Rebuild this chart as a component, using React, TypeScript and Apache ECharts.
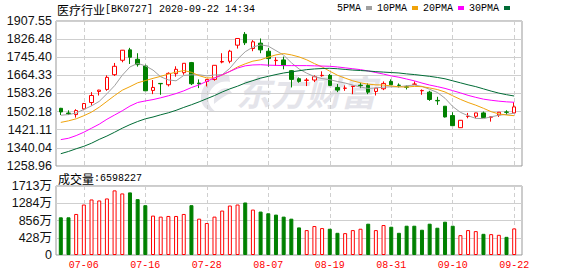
import React, { useEffect, useRef } from 'react';
import * as echarts from 'echarts';

const dates = [
  '07-01','07-02','07-03','07-06','07-07','07-08','07-09','07-10','07-13','07-14',
  '07-15','07-16','07-17','07-20','07-21','07-22','07-23','07-24','07-27','07-28',
  '07-29','07-30','07-31','08-03','08-04','08-05','08-06','08-07','08-10','08-11',
  '08-12','08-13','08-14','08-17','08-18','08-19','08-20','08-21','08-24','08-25',
  '08-26','08-27','08-28','08-31','09-01','09-02','09-03','09-04','09-07','09-08',
  '09-09','09-10','09-11','09-14','09-15','09-16','09-17','09-18','09-21','09-22'
];

const opens = [
  1517, 1496, 1488.9, 1514.4, 1542.9, 1592.4, 1601.4, 1667.4, 1731.9, 1778.4,
  1736.4, 1706.4, 1596.9, 1628.4, 1622.4, 1671.9, 1676.4, 1721.4, 1629.9, 1637.4,
  1646.4, 1723.9, 1727.4, 1799.4, 1848, 1784.4, 1808.4, 1772.4, 1730.4, 1733.4,
  1685.4, 1649.4, 1641.9, 1643.4, 1662.9, 1664.4, 1610.4, 1606.4, 1614.4, 1620.4,
  1619.4, 1592.4, 1604.4, 1637.4, 1620.4, 1612.9, 1624.4, 1595.4, 1589.4, 1552.4,
  1526.4, 1484.4, 1430.4, 1480.4, 1481.4, 1496.4, 1477.4, 1487.4, 1500.4, 1496.4
];
const closes = [
  1500.8, 1493, 1506.9, 1538.4, 1574.4, 1598.4, 1655.4, 1704.9, 1776.9, 1745.4,
  1712.4, 1595.4, 1610.4, 1626.9, 1673.4, 1691.4, 1718.4, 1626.9, 1626.9, 1646.4,
  1709.4, 1726.4, 1772.4, 1829.4, 1810, 1814.4, 1778.4, 1739.4, 1731.9, 1709.4,
  1646.4, 1637.4, 1643.4, 1658.4, 1664.4, 1619.4, 1598.4, 1607.4, 1616.4, 1618.4,
  1589.4, 1607.4, 1628.4, 1622.4, 1619.4, 1611.4, 1625.4, 1596.9, 1556.4, 1550.4,
  1478.4, 1439.4, 1463.4, 1481.4, 1496.4, 1475.4, 1478.4, 1499.4, 1499.4, 1523.4
];
const lows = [
  1487, 1487, 1475.4, 1508.4, 1529.4, 1574.4, 1595.4, 1661.4, 1722.9, 1715.4,
  1703.4, 1595.4, 1580.4, 1577.4, 1614.9, 1658.4, 1667.4, 1620.9, 1607.4, 1614.9,
  1640.4, 1718.4, 1718.4, 1784.4, 1800, 1772.4, 1763.4, 1703.4, 1706.4, 1691.4,
  1610.4, 1631.4, 1616.4, 1634.4, 1658.4, 1616.4, 1589.4, 1595.4, 1580.4, 1607.4,
  1580.4, 1574.4, 1598.4, 1622.4, 1610.4, 1601.4, 1622.4, 1577.4, 1550.4, 1532.4,
  1476, 1439.4, 1430, 1472.4, 1472.4, 1475, 1457.4, 1478.4, 1487.4, 1496.4
];
const highs = [
  1519, 1508, 1512.9, 1541, 1589.4, 1600, 1664.4, 1719.9, 1778, 1787.4,
  1763.4, 1712.4, 1643.4, 1629, 1677.9, 1704.9, 1719, 1724.4, 1646.4, 1647.9,
  1710, 1763.4, 1778.4, 1830, 1858, 1821.9, 1829.4, 1787.4, 1745.4, 1748.4,
  1688.4, 1655.4, 1652.4, 1664.4, 1682.4, 1670.4, 1625.4, 1619.4, 1617, 1631.4,
  1628.4, 1608, 1637.4, 1646.4, 1628.4, 1619.4, 1637.4, 1601.4, 1595.4, 1568.4,
  1527, 1499.4, 1464, 1496.4, 1497, 1502.4, 1480.4, 1500, 1508.4, 1545
];

const ma5 = [
  1486, 1489, 1496, 1512, 1528, 1548, 1582, 1618, 1665, 1702,
  1718, 1707, 1688, 1658, 1644, 1640, 1664, 1667, 1667, 1662,
  1666, 1667, 1696, 1737, 1770, 1791, 1801, 1795, 1775, 1755,
  1721, 1693, 1674, 1659, 1650, 1645, 1637, 1630, 1621, 1612,
  1606, 1608, 1612, 1613, 1613, 1618, 1621, 1615, 1602, 1588,
  1562, 1525, 1499, 1484, 1472, 1471, 1479, 1486, 1490, 1495
];
const ma10 = [
  1454, 1461, 1470, 1484, 1500, 1522, 1548, 1574, 1598, 1614,
  1631, 1641, 1651, 1660, 1670, 1679, 1686, 1678, 1663, 1653,
  1653, 1666, 1682, 1702, 1716, 1728, 1734, 1746, 1756, 1762,
  1756, 1747, 1734, 1717, 1702, 1683, 1665, 1652, 1640, 1631,
  1625, 1622, 1621, 1617, 1613, 1612, 1615, 1614, 1608, 1601,
  1590, 1573, 1557, 1543, 1531, 1517, 1502, 1492, 1487, 1484
];
const ma20 = [
  1377, 1383, 1395, 1410, 1428, 1446, 1468, 1487, 1506, 1527,
  1543, 1550, 1556, 1564, 1573, 1583, 1595, 1610, 1622, 1638,
  1653, 1667, 1682, 1697, 1707, 1711, 1712, 1710, 1709, 1708,
  1708, 1708, 1708, 1707, 1706, 1705, 1702, 1698, 1694, 1690,
  1684, 1677, 1670, 1662, 1656, 1648, 1640, 1630, 1621, 1614,
  1606, 1596, 1586, 1575, 1566, 1558, 1553, 1549, 1546, 1544
];
const ma30 = [
  1314, 1324, 1336, 1347, 1361, 1378, 1393, 1410, 1428, 1444,
  1458, 1470, 1478, 1488, 1497, 1508, 1521, 1533, 1546, 1560,
  1574, 1590, 1604, 1616, 1630, 1641, 1652, 1660, 1668, 1675,
  1680, 1685, 1690, 1693, 1695, 1696, 1694, 1691, 1688, 1686,
  1684, 1681, 1679, 1677, 1675, 1671, 1668, 1664, 1660, 1655,
  1649, 1640, 1631, 1622, 1614, 1604, 1594, 1585, 1578, 1572
];

// volume in units of 万
const volumes = [
  936, 936, 1019, 1253, 1379, 1354, 1404, 1604, 1529, 1554,
  1387, 1237, 978, 953, 969, 969, 1019, 1237, 902, 794,
  953, 1103, 1228, 1253, 1304, 1128, 1078, 1036, 1003, 953,
  902, 685, 618, 719, 668, 652, 551, 543, 618, 652,
  777, 618, 744, 702, 551, 727, 727, 627, 777, 677,
  827, 727, 493, 618, 593, 526, 518, 501, 451, 660
];
// 1 = rising (red, hollow), 0 = falling (green, filled)
const volumeUp = [
  0, 0, 1, 1, 1, 1, 1, 1, 1, 0,
  0, 0, 1, 1, 1, 1, 1, 0, 1, 1,
  1, 1, 1, 1, 0, 1, 0, 0, 0, 0,
  0, 0, 1, 1, 1, 0, 0, 1, 1, 1,
  0, 1, 1, 0, 0, 0, 0, 0, 0, 0,
  0, 0, 1, 1, 1, 0, 1, 1, 0, 1
];

const priceTicks = [1258.96, 1340.04, 1421.11, 1502.18, 1583.26, 1664.33, 1745.40, 1826.48, 1907.55];
const volumeTickLabels = ['0', '428万', '856万', '1284万', '1713万'];
const volumeMax = 1713;
const volumeStep = 428.25;

const titleName = '医疗行业';
const titleCode = '[BK0727] 2020-09-22 14:34';
const volumeName = '成交量';
const volumeNow = ':6598227';
const maNames = ['5PMA', '10PMA', '20PMA', '30PMA'];
const maColors = ['#a0a0a0', '#f0a30a', '#ff00ff', '#006b35'];

const RED = '#ff0000';
const GREEN = '#008000';
const GRIDLINE = '#cfcfcf';
const FRAME = '#999999';
const MONO = 'Liberation Mono, Noto Sans CJK SC';
const SANS = 'Liberation Sans, Noto Sans CJK SC';
const CJK = 'Noto Sans CJK SC';

const labelEvery = (i: number) => i >= 3 && (i - 3) % 8 === 0;

try {
  echarts.graphic.registerShape(
    'emlogo',
    echarts.graphic.extendPath(
      'M30 4 C16 2 3 12 2 25 C1 34 8 41 17 41 C10 36 8 29 10 23 C13 14 22 9 31 11 Z M29 17 C20 17 14 23 15 33 C21 28 26 24 33 22 Z',
      {}
    ) as any
  );
} catch (e) {
  /* already registered */
}

export default function App() {
  const ref = useRef<HTMLDivElement>(null);
  useEffect(() => {
    document.body.style.margin = '0';
    const chart = echarts.init(ref.current!, null, { renderer: 'svg' });
    const dataLeft = 60.8;
    const dataRight = 578 - 514.2;
    const option: any = {
      animation: false,
      backgroundColor: '#ffffff',
      legend: {
        data: maNames,
        left: 337,
        top: 3,
        align: 'right',
        icon: 'rect',
        itemWidth: 6,
        itemHeight: 4,
        itemGap: 5,
        padding: 0,
        textStyle: { fontFamily: MONO, fontSize: 10, color: '#000' },
      },
      graphic: [
        {
          type: 'group',
          z: -1,
          children: [
            {
              type: 'emlogo',
              x: 199,
              y: 71,
              scaleX: 1,
              scaleY: 1,
              z: -1,
              style: { fill: '#e4e4ea' },
            },
            {
              type: 'text',
              x: 236,
              y: 90,
              z: -1,
              style: {
                text: '东方财富',
                fontFamily: CJK,
                fontSize: 35,
                fontWeight: 'bold',
                fontStyle: 'italic',
                fill: '#e4e4ea',
                verticalAlign: 'middle',
                align: 'left',
              },
            },
          ],
        },
        {
          type: 'text',
          x: 57,
          y: 9,
          style: {
            text: `{a|${titleName}}{b|${titleCode}}`,
            verticalAlign: 'middle',
            rich: {
              a: { fontFamily: CJK, fontSize: 12, fill: '#000' },
              b: { fontFamily: MONO, fontSize: 10, fill: '#000' },
            },
          },
        },
        {
          type: 'text',
          x: 58,
          y: 178,
          style: {
            text: `{a|${volumeName}}{b|${volumeNow}}`,
            verticalAlign: 'middle',
            rich: {
              a: { fontFamily: CJK, fontSize: 12, fill: '#000' },
              b: { fontFamily: MONO, fontSize: 10, fill: '#000' },
            },
          },
        },
      ],
      grid: [
        { left: 56, right: 56, top: 21, height: 145, show: true, borderColor: FRAME, borderWidth: 1, backgroundColor: 'transparent' },
        { left: dataLeft, right: dataRight, top: 21, height: 145 },
        { left: 56, right: 56, top: 186, height: 69, show: true, borderColor: FRAME, borderWidth: 1, backgroundColor: 'transparent' },
        { left: dataLeft, right: dataRight, top: 186, height: 69 },
      ],
      xAxis: [
        { type: 'value', gridIndex: 0, show: false },
        {
          type: 'category',
          gridIndex: 1,
          data: dates,
          boundaryGap: false,
          axisLine: { show: false },
          axisTick: { show: false },
          axisLabel: { show: false },
          splitLine: { show: true, interval: labelEvery, lineStyle: { color: GRIDLINE, type: [4, 3], width: 1 } },
        },
        { type: 'value', gridIndex: 2, show: false },
        {
          type: 'category',
          gridIndex: 3,
          data: dates,
          boundaryGap: false,
          axisLine: { show: false },
          axisTick: { show: false },
          axisLabel: {
            show: true,
            interval: labelEvery,
            color: RED,
            fontFamily: MONO,
            fontSize: 10,
            margin: 5,
          },
          splitLine: { show: true, interval: labelEvery, lineStyle: { color: GRIDLINE, type: [4, 3], width: 1 } },
        },
      ],
      yAxis: [
        {
          type: 'value',
          gridIndex: 0,
          min: priceTicks[0],
          max: priceTicks[priceTicks.length - 1],
          axisLine: { show: false },
          axisTick: { show: false, customValues: priceTicks },
          axisLabel: {
            customValues: priceTicks,
            formatter: (v: number) => v.toFixed(2),
            color: '#111',
            fontFamily: SANS,
            fontSize: 12.5,
            margin: 4,
          },
          splitLine: { show: true, lineStyle: { color: GRIDLINE, width: 1 } },
        },
        {
          type: 'value',
          gridIndex: 1,
          min: priceTicks[0],
          max: priceTicks[priceTicks.length - 1],
          show: false,
          splitLine: { show: false },
        },
        {
          type: 'value',
          gridIndex: 2,
          min: 0,
          max: volumeMax,
          interval: volumeStep,
          axisLine: { show: false },
          axisTick: { show: false },
          axisLabel: {
            formatter: (v: number) => volumeTickLabels[Math.round(v / volumeStep)] ?? '',
            color: '#111',
            fontFamily: SANS,
            fontSize: 12.5,
            margin: 4,
          },
          splitLine: { show: true, lineStyle: { color: GRIDLINE, width: 1 } },
        },
        {
          type: 'value',
          gridIndex: 3,
          min: 0,
          max: volumeMax,
          show: false,
          splitLine: { show: false },
        },
      ],
      series: [
        {
          type: 'candlestick',
          name: 'K',
          xAxisIndex: 1,
          yAxisIndex: 1,
          barWidth: 4,
          clip: false,
          data: dates.map((_, i) => [opens[i], closes[i], lows[i], highs[i]]),
          itemStyle: {
            color: '#ffffff',
            color0: GREEN,
            borderColor: RED,
            borderColor0: GREEN,
            borderWidth: 1,
          },
        },
        ...[ma5, ma10, ma20, ma30].map((arr, k) => ({
          type: 'line',
          name: maNames[k],
          xAxisIndex: 1,
          yAxisIndex: 1,
          data: arr,
          symbol: 'none',
          showSymbol: false,
          clip: false,
          lineStyle: { width: 1, color: maColors[k] },
          itemStyle: { color: maColors[k] },
          z: 3,
        })),
        {
          type: 'bar',
          name: 'VOL',
          xAxisIndex: 3,
          yAxisIndex: 3,
          barWidth: 4,
          clip: false,
          data: volumes.map((v, i) => ({
            value: v,
            itemStyle: volumeUp[i]
              ? { color: '#ffffff', borderColor: RED, borderWidth: 1 }
              : { color: GREEN, borderColor: GREEN, borderWidth: 1 },
          })),
        },
      ],
    };
    chart.setOption(option);
    return () => chart.dispose();
  }, []);
  return <div ref={ref} style={{ width: 578, height: 276 }} />;
}
